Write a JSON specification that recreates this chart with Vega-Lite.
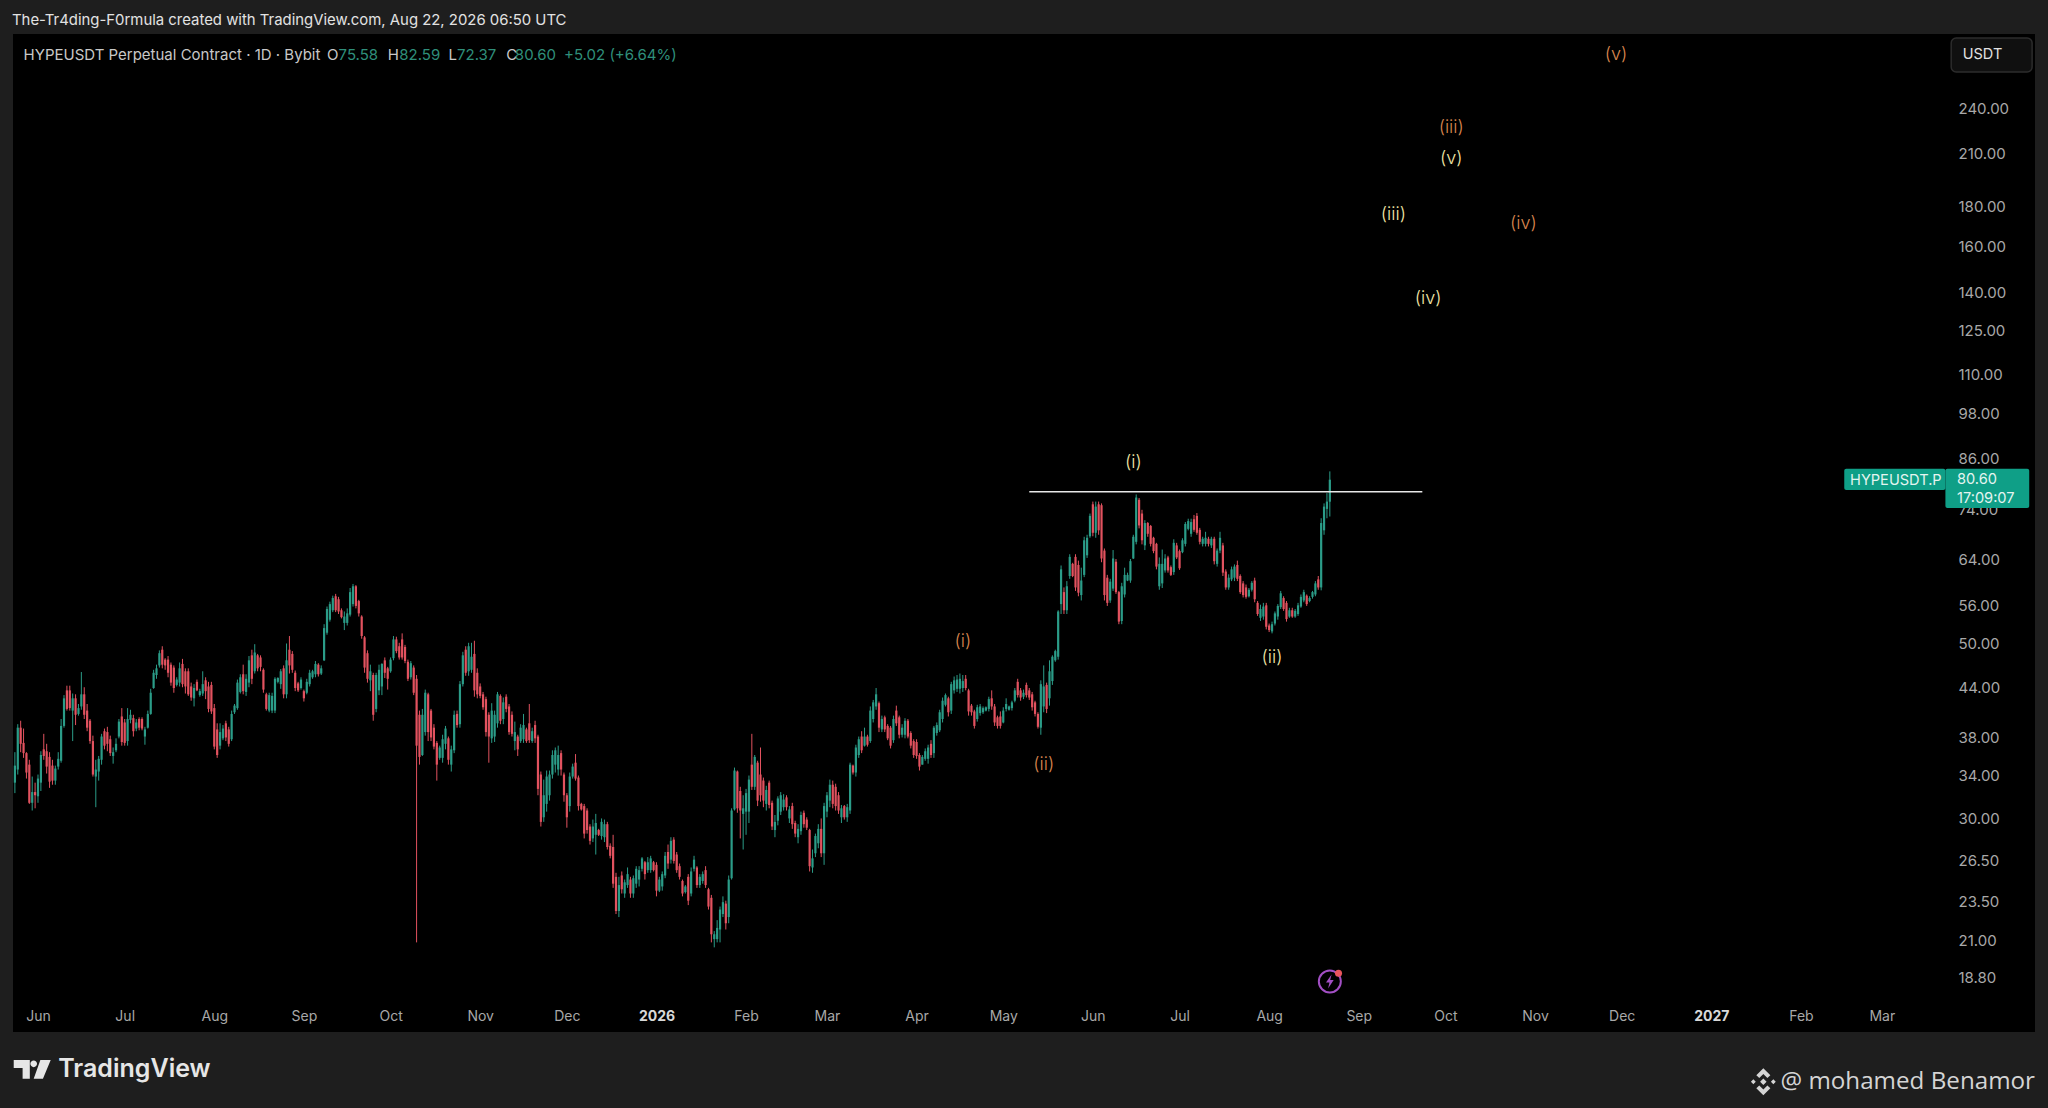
{"$schema":"https://vega.github.io/schema/vega-lite/v6.json","autosize":{"type":"none"},"width":2022,"height":998,"padding":{"left":13,"top":34,"right":13,"bottom":76},"background":"#1e1e1e","view":{"fill":"#000000","stroke":null},"config":{"text":{"font":"Inter"},"axis":{"labelFont":"Inter"}},
"datasets":{"candles":[
{"d":"2025-05-24","o":33.2,"h":36.3,"l":32.2,"c":34.9},{"d":"2025-05-25","o":34.5,"h":39.4,"l":34.0,"c":39.0},{"d":"2025-05-26","o":39.0,"h":39.8,"l":36.3,"c":37.2},{"d":"2025-05-27","o":37.3,"h":38.9,"l":35.7,"c":36.2},{"d":"2025-05-28","o":36.2,"h":36.3,"l":33.6,"c":34.2},{"d":"2025-05-29","o":35.0,"h":35.5,"l":31.2,"c":31.3},{"d":"2025-05-30","o":31.3,"h":33.8,"l":30.6,"c":32.3},{"d":"2025-05-31","o":32.3,"h":33.2,"l":30.8,"c":32.0},
{"d":"2025-06-01","o":31.9,"h":34.0,"l":31.3,"c":33.6},{"d":"2025-06-02","o":33.2,"h":36.4,"l":32.4,"c":36.0},{"d":"2025-06-03","o":36.6,"h":38.3,"l":35.5,"c":35.9},{"d":"2025-06-04","o":36.4,"h":37.2,"l":34.1,"c":34.8},{"d":"2025-06-05","o":35.8,"h":36.3,"l":32.7,"c":33.3},{"d":"2025-06-06","o":34.9,"h":35.5,"l":33.0,"c":33.4},{"d":"2025-06-07","o":33.4,"h":34.9,"l":33.0,"c":34.6},{"d":"2025-06-08","o":34.8,"h":36.3,"l":34.5,"c":35.6},{"d":"2025-06-09","o":35.4,"h":40.0,"l":35.2,"c":39.2},{"d":"2025-06-10","o":39.2,"h":42.9,"l":39.0,"c":42.5},{"d":"2025-06-11","o":43.5,"h":44.1,"l":41.0,"c":41.2},{"d":"2025-06-12","o":43.5,"h":44.1,"l":41.0,"c":41.3},{"d":"2025-06-13","o":41.0,"h":43.1,"l":37.5,"c":42.5},{"d":"2025-06-14","o":42.5,"h":43.0,"l":39.3,"c":40.5},{"d":"2025-06-15","o":40.6,"h":41.8,"l":40.4,"c":41.3},{"d":"2025-06-16","o":41.5,"h":45.9,"l":41.1,"c":43.0},{"d":"2025-06-17","o":43.0,"h":43.9,"l":40.0,"c":40.5},{"d":"2025-06-18","o":41.0,"h":41.8,"l":38.6,"c":39.0},{"d":"2025-06-19","o":39.8,"h":40.0,"l":37.2,"c":37.5},{"d":"2025-06-20","o":37.5,"h":38.1,"l":33.8,"c":34.0},{"d":"2025-06-21","o":33.8,"h":35.5,"l":30.9,"c":34.5},{"d":"2025-06-22","o":34.3,"h":35.9,"l":33.4,"c":35.6},{"d":"2025-06-23","o":35.5,"h":38.3,"l":35.0,"c":38.0},{"d":"2025-06-24","o":38.6,"h":38.9,"l":36.6,"c":37.0},{"d":"2025-06-25","o":38.5,"h":39.1,"l":36.4,"c":37.2},{"d":"2025-06-26","o":37.7,"h":38.1,"l":35.9,"c":36.2},{"d":"2025-06-27","o":35.9,"h":36.8,"l":35.1,"c":36.3},{"d":"2025-06-28","o":36.5,"h":37.8,"l":36.3,"c":37.2},{"d":"2025-06-29","o":38.0,"h":40.0,"l":37.8,"c":39.7},{"d":"2025-06-30","o":40.3,"h":41.3,"l":37.0,"c":37.4},
{"d":"2025-07-01","o":39.6,"h":40.0,"l":37.0,"c":37.3},{"d":"2025-07-02","o":37.5,"h":41.3,"l":37.0,"c":40.0},{"d":"2025-07-03","o":39.9,"h":41.1,"l":39.5,"c":40.5},{"d":"2025-07-04","o":40.1,"h":40.5,"l":38.0,"c":38.6},{"d":"2025-07-05","o":38.9,"h":40.0,"l":38.6,"c":39.6},{"d":"2025-07-06","o":40.0,"h":40.2,"l":38.7,"c":39.0},{"d":"2025-07-07","o":40.0,"h":40.2,"l":38.7,"c":38.9},{"d":"2025-07-08","o":38.0,"h":39.1,"l":37.1,"c":38.8},{"d":"2025-07-09","o":39.0,"h":41.0,"l":38.9,"c":40.6},{"d":"2025-07-10","o":40.6,"h":43.7,"l":40.5,"c":43.2},{"d":"2025-07-11","o":43.8,"h":46.2,"l":43.7,"c":45.8},{"d":"2025-07-12","o":45.5,"h":46.9,"l":45.0,"c":46.4},{"d":"2025-07-13","o":46.8,"h":48.9,"l":46.5,"c":48.5},{"d":"2025-07-14","o":49.0,"h":49.5,"l":46.4,"c":46.9},{"d":"2025-07-15","o":47.6,"h":47.8,"l":46.2,"c":46.8},{"d":"2025-07-16","o":47.6,"h":48.1,"l":45.2,"c":45.8},{"d":"2025-07-17","o":46.9,"h":47.2,"l":44.1,"c":44.5},{"d":"2025-07-18","o":46.5,"h":46.8,"l":43.2,"c":43.8},{"d":"2025-07-19","o":44.2,"h":45.2,"l":44.0,"c":44.9},{"d":"2025-07-20","o":44.5,"h":47.2,"l":44.0,"c":46.4},{"d":"2025-07-21","o":47.0,"h":47.7,"l":43.9,"c":44.3},{"d":"2025-07-22","o":46.0,"h":46.4,"l":43.1,"c":44.0},{"d":"2025-07-23","o":46.0,"h":46.4,"l":42.8,"c":43.0},{"d":"2025-07-24","o":44.0,"h":44.5,"l":42.2,"c":42.6},{"d":"2025-07-25","o":42.5,"h":44.3,"l":41.5,"c":43.8},{"d":"2025-07-26","o":44.6,"h":44.9,"l":43.4,"c":43.5},{"d":"2025-07-27","o":42.9,"h":43.7,"l":42.7,"c":43.4},{"d":"2025-07-28","o":43.1,"h":46.0,"l":42.8,"c":44.3},{"d":"2025-07-29","o":44.8,"h":45.2,"l":42.4,"c":43.4},{"d":"2025-07-30","o":44.0,"h":44.6,"l":40.8,"c":41.2},{"d":"2025-07-31","o":44.2,"h":44.6,"l":40.6,"c":40.9},
{"d":"2025-08-01","o":41.3,"h":41.8,"l":36.6,"c":36.9},{"d":"2025-08-02","o":38.8,"h":39.5,"l":35.7,"c":36.0},{"d":"2025-08-03","o":37.0,"h":39.5,"l":36.6,"c":38.5},{"d":"2025-08-04","o":37.8,"h":39.3,"l":37.6,"c":38.9},{"d":"2025-08-05","o":39.5,"h":39.8,"l":37.5,"c":37.9},{"d":"2025-08-06","o":38.8,"h":39.1,"l":36.9,"c":37.2},{"d":"2025-08-07","o":37.7,"h":41.0,"l":37.5,"c":40.6},{"d":"2025-08-08","o":40.8,"h":41.8,"l":40.6,"c":41.6},{"d":"2025-08-09","o":41.3,"h":44.9,"l":41.1,"c":44.5},{"d":"2025-08-10","o":43.3,"h":45.6,"l":43.1,"c":45.2},{"d":"2025-08-11","o":45.6,"h":46.9,"l":43.0,"c":43.4},{"d":"2025-08-12","o":43.3,"h":45.6,"l":42.8,"c":45.0},{"d":"2025-08-13","o":44.5,"h":48.1,"l":43.9,"c":47.5},{"d":"2025-08-14","o":48.2,"h":49.0,"l":44.3,"c":45.0},{"d":"2025-08-15","o":46.0,"h":49.8,"l":45.7,"c":48.6},{"d":"2025-08-16","o":48.2,"h":48.4,"l":46.0,"c":46.4},{"d":"2025-08-17","o":47.9,"h":48.2,"l":46.0,"c":46.6},{"d":"2025-08-18","o":46.2,"h":46.4,"l":43.2,"c":43.6},{"d":"2025-08-19","o":43.0,"h":43.2,"l":41.0,"c":41.2},{"d":"2025-08-20","o":41.0,"h":43.2,"l":40.8,"c":42.9},{"d":"2025-08-21","o":41.0,"h":43.2,"l":40.7,"c":42.8},{"d":"2025-08-22","o":41.0,"h":45.2,"l":40.7,"c":45.0},{"d":"2025-08-23","o":44.6,"h":45.2,"l":44.4,"c":45.1},{"d":"2025-08-24","o":44.3,"h":46.3,"l":43.7,"c":46.0},{"d":"2025-08-25","o":46.4,"h":46.8,"l":42.5,"c":43.0},{"d":"2025-08-26","o":43.0,"h":49.9,"l":42.5,"c":47.5},{"d":"2025-08-27","o":49.0,"h":51.0,"l":45.7,"c":46.8},{"d":"2025-08-28","o":48.4,"h":48.8,"l":45.8,"c":46.2},{"d":"2025-08-29","o":45.8,"h":46.1,"l":43.4,"c":43.8},{"d":"2025-08-30","o":44.4,"h":44.6,"l":43.3,"c":43.5},{"d":"2025-08-31","o":43.8,"h":45.2,"l":43.6,"c":44.9},
{"d":"2025-09-01","o":43.4,"h":43.6,"l":42.1,"c":42.5},{"d":"2025-09-02","o":43.2,"h":45.0,"l":43.0,"c":44.6},{"d":"2025-09-03","o":44.3,"h":46.2,"l":44.0,"c":45.8},{"d":"2025-09-04","o":45.2,"h":46.2,"l":45.0,"c":46.0},{"d":"2025-09-05","o":45.6,"h":47.4,"l":45.2,"c":47.0},{"d":"2025-09-06","o":46.9,"h":47.1,"l":45.3,"c":45.6},{"d":"2025-09-07","o":45.7,"h":46.8,"l":45.5,"c":46.4},{"d":"2025-09-08","o":47.5,"h":52.8,"l":47.4,"c":52.2},{"d":"2025-09-09","o":51.5,"h":55.6,"l":51.2,"c":55.2},{"d":"2025-09-10","o":53.5,"h":56.4,"l":53.2,"c":56.0},{"d":"2025-09-11","o":55.0,"h":57.4,"l":54.7,"c":57.0},{"d":"2025-09-12","o":57.3,"h":57.7,"l":54.7,"c":55.0},{"d":"2025-09-13","o":56.8,"h":57.2,"l":54.4,"c":54.8},
{"d":"2025-09-14","o":55.0,"h":55.3,"l":53.7,"c":53.9},{"d":"2025-09-15","o":53.0,"h":54.8,"l":51.9,"c":54.0},{"d":"2025-09-16","o":53.0,"h":55.3,"l":52.6,"c":54.5},{"d":"2025-09-17","o":54.3,"h":58.7,"l":54.0,"c":58.0},{"d":"2025-09-18","o":56.0,"h":59.4,"l":55.6,"c":59.0},{"d":"2025-09-19","o":59.0,"h":59.2,"l":55.3,"c":55.7},{"d":"2025-09-20","o":56.5,"h":56.7,"l":54.0,"c":54.5},{"d":"2025-09-21","o":54.0,"h":54.2,"l":50.6,"c":51.0},{"d":"2025-09-22","o":50.8,"h":51.0,"l":45.8,"c":46.5},{"d":"2025-09-23","o":48.5,"h":48.9,"l":44.5,"c":45.0},{"d":"2025-09-24","o":44.8,"h":46.9,"l":43.4,"c":46.0},{"d":"2025-09-25","o":45.5,"h":45.8,"l":39.8,"c":40.5},{"d":"2025-09-26","o":41.2,"h":45.8,"l":40.8,"c":45.5},{"d":"2025-09-27","o":43.5,"h":46.9,"l":42.9,"c":46.2},{"d":"2025-09-28","o":44.0,"h":47.1,"l":42.9,"c":47.0},{"d":"2025-09-29","o":47.5,"h":47.9,"l":45.1,"c":45.8},{"d":"2025-09-30","o":46.4,"h":46.6,"l":43.6,"c":45.0},
{"d":"2025-10-01","o":46.0,"h":47.9,"l":45.8,"c":47.6},{"d":"2025-10-02","o":47.8,"h":51.0,"l":47.5,"c":50.5},{"d":"2025-10-03","o":50.5,"h":50.9,"l":48.5,"c":48.8},{"d":"2025-10-04","o":49.5,"h":50.0,"l":47.6,"c":47.9},{"d":"2025-10-05","o":50.5,"h":51.4,"l":47.6,"c":47.9},{"d":"2025-10-06","o":49.4,"h":49.7,"l":47.1,"c":47.4},{"d":"2025-10-07","o":47.3,"h":47.6,"l":44.7,"c":45.0},{"d":"2025-10-08","o":45.2,"h":47.4,"l":44.9,"c":47.1},{"d":"2025-10-09","o":46.5,"h":46.8,"l":42.9,"c":43.2},{"d":"2025-10-10","o":45.0,"h":45.5,"l":20.8,"c":37.0},{"d":"2025-10-11","o":40.5,"h":41.0,"l":35.0,"c":35.8},{"d":"2025-10-12","o":36.0,"h":41.2,"l":35.9,"c":40.5},{"d":"2025-10-13","o":38.5,"h":43.6,"l":38.1,"c":43.2},{"d":"2025-10-14","o":43.0,"h":43.2,"l":37.5,"c":38.5},{"d":"2025-10-15","o":41.0,"h":41.2,"l":37.5,"c":37.9},{"d":"2025-10-16","o":39.0,"h":39.4,"l":36.6,"c":36.9},{"d":"2025-10-17","o":37.3,"h":37.5,"l":33.4,"c":35.0},{"d":"2025-10-18","o":35.7,"h":37.0,"l":35.5,"c":36.8},{"d":"2025-10-19","o":35.7,"h":38.2,"l":35.2,"c":37.7},{"d":"2025-10-20","o":37.2,"h":39.2,"l":36.6,"c":38.9},{"d":"2025-10-21","o":37.8,"h":38.0,"l":35.0,"c":35.5},{"d":"2025-10-22","o":35.0,"h":37.0,"l":34.3,"c":36.6},{"d":"2025-10-23","o":36.5,"h":41.0,"l":36.2,"c":40.5},{"d":"2025-10-24","o":40.6,"h":41.0,"l":39.0,"c":39.3},{"d":"2025-10-25","o":39.4,"h":44.7,"l":39.0,"c":44.3},{"d":"2025-10-26","o":44.3,"h":48.7,"l":44.0,"c":48.2},{"d":"2025-10-27","o":49.0,"h":49.5,"l":45.4,"c":45.8},{"d":"2025-10-28","o":46.0,"h":50.0,"l":45.4,"c":49.5},{"d":"2025-10-29","o":46.2,"h":50.0,"l":45.8,"c":48.0},{"d":"2025-10-30","o":48.4,"h":50.3,"l":42.7,"c":43.5},{"d":"2025-10-31","o":45.8,"h":46.4,"l":42.5,"c":43.0},
{"d":"2025-11-01","o":44.0,"h":44.4,"l":42.5,"c":42.8},{"d":"2025-11-02","o":43.0,"h":43.3,"l":41.1,"c":41.4},{"d":"2025-11-03","o":42.4,"h":42.7,"l":38.0,"c":38.5},{"d":"2025-11-04","o":40.5,"h":40.8,"l":35.2,"c":38.0},{"d":"2025-11-05","o":37.8,"h":41.9,"l":37.3,"c":41.0},{"d":"2025-11-06","o":38.0,"h":41.0,"l":37.4,"c":40.5},{"d":"2025-11-07","o":39.5,"h":43.3,"l":39.0,"c":43.0},{"d":"2025-11-08","o":42.8,"h":43.0,"l":39.4,"c":39.8},{"d":"2025-11-09","o":40.0,"h":42.6,"l":39.4,"c":42.0},{"d":"2025-11-10","o":42.7,"h":43.0,"l":40.8,"c":41.2},{"d":"2025-11-11","o":41.5,"h":41.8,"l":38.2,"c":38.5},{"d":"2025-11-12","o":40.5,"h":40.9,"l":38.0,"c":38.3},{"d":"2025-11-13","o":37.5,"h":39.7,"l":36.5,"c":38.5},{"d":"2025-11-14","o":38.0,"h":38.2,"l":35.9,"c":36.6},{"d":"2025-11-15","o":37.5,"h":39.4,"l":37.3,"c":39.0},{"d":"2025-11-16","o":37.7,"h":40.6,"l":37.3,"c":39.3},{"d":"2025-11-17","o":38.8,"h":39.0,"l":37.3,"c":37.5},{"d":"2025-11-18","o":39.5,"h":41.8,"l":37.3,"c":37.6},{"d":"2025-11-19","o":37.5,"h":39.0,"l":37.3,"c":38.6},{"d":"2025-11-20","o":39.3,"h":39.8,"l":37.3,"c":37.8},{"d":"2025-11-21","o":38.0,"h":38.2,"l":32.0,"c":32.6},{"d":"2025-11-22","o":34.0,"h":34.3,"l":29.2,"c":29.6},{"d":"2025-11-23","o":30.0,"h":33.5,"l":29.6,"c":32.0},{"d":"2025-11-24","o":31.2,"h":34.4,"l":30.5,"c":33.8},{"d":"2025-11-25","o":32.0,"h":34.4,"l":31.5,"c":34.0},{"d":"2025-11-26","o":34.0,"h":36.5,"l":33.6,"c":36.0},{"d":"2025-11-27","o":35.0,"h":36.8,"l":34.2,"c":36.5},{"d":"2025-11-28","o":34.5,"h":37.0,"l":33.9,"c":36.0},{"d":"2025-11-29","o":36.2,"h":36.5,"l":33.9,"c":34.5},{"d":"2025-11-30","o":34.0,"h":34.2,"l":31.4,"c":32.0},
{"d":"2025-12-01","o":32.0,"h":32.2,"l":29.1,"c":30.0},{"d":"2025-12-02","o":31.0,"h":34.2,"l":30.5,"c":33.8},{"d":"2025-12-03","o":33.8,"h":35.1,"l":33.6,"c":34.8},{"d":"2025-12-04","o":35.2,"h":36.1,"l":33.4,"c":33.6},{"d":"2025-12-05","o":33.7,"h":33.9,"l":30.6,"c":31.0},{"d":"2025-12-06","o":31.2,"h":31.3,"l":30.6,"c":30.7},{"d":"2025-12-07","o":31.0,"h":31.2,"l":28.2,"c":28.6},{"d":"2025-12-08","o":30.6,"h":30.8,"l":28.6,"c":28.9},{"d":"2025-12-09","o":29.2,"h":29.4,"l":27.7,"c":28.0},{"d":"2025-12-10","o":28.2,"h":29.8,"l":27.9,"c":29.2},{"d":"2025-12-11","o":28.5,"h":30.3,"l":26.9,"c":29.5},{"d":"2025-12-12","o":28.9,"h":29.0,"l":28.4,"c":28.5},{"d":"2025-12-13","o":28.4,"h":29.9,"l":28.1,"c":29.6},{"d":"2025-12-14","o":28.3,"h":29.8,"l":27.9,"c":29.4},{"d":"2025-12-15","o":29.4,"h":29.6,"l":27.3,"c":27.5},{"d":"2025-12-16","o":27.6,"h":27.8,"l":26.6,"c":26.8},{"d":"2025-12-17","o":27.5,"h":28.5,"l":24.4,"c":24.7},{"d":"2025-12-18","o":25.2,"h":25.5,"l":22.6,"c":22.8},{"d":"2025-12-19","o":22.8,"h":25.2,"l":22.4,"c":24.6},{"d":"2025-12-20","o":25.3,"h":25.6,"l":24.0,"c":24.3},{"d":"2025-12-21","o":24.0,"h":25.0,"l":23.7,"c":24.8},{"d":"2025-12-22","o":24.6,"h":25.9,"l":24.4,"c":25.4},{"d":"2025-12-23","o":25.0,"h":25.2,"l":23.7,"c":24.0},{"d":"2025-12-24","o":24.0,"h":25.3,"l":23.7,"c":25.1},{"d":"2025-12-25","o":24.7,"h":26.0,"l":24.4,"c":25.8},{"d":"2025-12-26","o":25.0,"h":26.0,"l":24.5,"c":25.7},{"d":"2025-12-27","o":25.8,"h":26.7,"l":25.6,"c":26.6},{"d":"2025-12-28","o":26.3,"h":26.4,"l":25.0,"c":25.4},{"d":"2025-12-29","o":25.7,"h":26.7,"l":25.5,"c":26.3},{"d":"2025-12-30","o":25.7,"h":26.8,"l":25.5,"c":26.6},{"d":"2025-12-31","o":26.3,"h":26.4,"l":25.6,"c":25.7},
{"d":"2026-01-01","o":26.1,"h":26.3,"l":23.8,"c":24.2},{"d":"2026-01-02","o":24.2,"h":25.2,"l":24.1,"c":25.0},{"d":"2026-01-03","o":24.5,"h":25.6,"l":24.2,"c":25.4},{"d":"2026-01-04","o":25.3,"h":27.1,"l":25.1,"c":26.8},{"d":"2026-01-05","o":27.1,"h":27.7,"l":25.8,"c":26.2},
{"d":"2026-01-06","o":26.5,"h":28.3,"l":26.2,"c":28.0},{"d":"2026-01-07","o":28.1,"h":28.3,"l":26.2,"c":26.4},{"d":"2026-01-08","o":26.9,"h":27.1,"l":25.5,"c":25.7},{"d":"2026-01-09","o":26.0,"h":26.2,"l":25.0,"c":25.2},{"d":"2026-01-10","o":24.9,"h":25.0,"l":23.8,"c":24.0},{"d":"2026-01-11","o":24.1,"h":24.6,"l":24.0,"c":24.5},{"d":"2026-01-12","o":25.2,"h":25.4,"l":23.2,"c":23.5},{"d":"2026-01-13","o":24.0,"h":25.9,"l":23.8,"c":25.6},{"d":"2026-01-14","o":25.8,"h":26.8,"l":25.6,"c":26.5},{"d":"2026-01-15","o":25.9,"h":26.0,"l":24.4,"c":24.6},{"d":"2026-01-16","o":24.6,"h":25.4,"l":24.4,"c":25.2},{"d":"2026-01-17","o":24.9,"h":25.6,"l":24.7,"c":25.4},{"d":"2026-01-18","o":25.7,"h":26.0,"l":24.4,"c":24.6},{"d":"2026-01-19","o":24.3,"h":24.4,"l":22.9,"c":23.1},{"d":"2026-01-20","o":23.7,"h":23.9,"l":20.8,"c":21.3},{"d":"2026-01-21","o":21.0,"h":21.5,"l":20.5,"c":21.3},{"d":"2026-01-22","o":21.0,"h":22.2,"l":20.8,"c":21.7},{"d":"2026-01-23","o":21.6,"h":23.1,"l":20.8,"c":22.9},{"d":"2026-01-24","o":22.6,"h":23.8,"l":22.4,"c":23.4},{"d":"2026-01-25","o":23.3,"h":23.5,"l":21.6,"c":22.0},{"d":"2026-01-26","o":22.4,"h":25.3,"l":22.0,"c":25.0},{"d":"2026-01-27","o":25.1,"h":30.8,"l":25.0,"c":30.6},{"d":"2026-01-28","o":30.7,"h":34.7,"l":30.6,"c":34.4},{"d":"2026-01-29","o":34.3,"h":34.4,"l":30.4,"c":30.8},{"d":"2026-01-30","o":32.4,"h":32.8,"l":28.2,"c":30.6},{"d":"2026-01-31","o":30.3,"h":32.0,"l":27.3,"c":30.8},
{"d":"2026-02-01","o":30.5,"h":32.6,"l":28.5,"c":32.2},{"d":"2026-02-02","o":30.5,"h":33.9,"l":29.5,"c":33.5},{"d":"2026-02-03","o":35.0,"h":38.3,"l":32.5,"c":32.8},{"d":"2026-02-04","o":32.8,"h":36.0,"l":32.5,"c":35.8},{"d":"2026-02-05","o":35.2,"h":35.4,"l":31.0,"c":31.5},{"d":"2026-02-06","o":34.0,"h":36.8,"l":31.4,"c":32.0},{"d":"2026-02-07","o":33.4,"h":33.7,"l":30.9,"c":31.5},{"d":"2026-02-08","o":31.2,"h":32.9,"l":30.6,"c":32.5},{"d":"2026-02-09","o":33.2,"h":33.4,"l":30.8,"c":31.1},{"d":"2026-02-10","o":31.3,"h":31.5,"l":28.9,"c":29.2},{"d":"2026-02-11","o":28.9,"h":30.2,"l":28.3,"c":29.6},{"d":"2026-02-12","o":29.7,"h":31.9,"l":29.3,"c":31.7},{"d":"2026-02-13","o":30.5,"h":32.3,"l":30.2,"c":32.0},{"d":"2026-02-14","o":30.9,"h":32.1,"l":30.6,"c":31.6},{"d":"2026-02-15","o":31.8,"h":32.0,"l":30.6,"c":30.9},{"d":"2026-02-16","o":29.9,"h":31.0,"l":29.5,"c":30.7},{"d":"2026-02-17","o":31.0,"h":31.3,"l":29.0,"c":29.4},{"d":"2026-02-18","o":29.5,"h":29.7,"l":28.3,"c":28.6},{"d":"2026-02-19","o":28.3,"h":29.4,"l":27.8,"c":29.0},{"d":"2026-02-20","o":28.8,"h":30.5,"l":28.5,"c":30.2},{"d":"2026-02-21","o":30.4,"h":30.6,"l":29.1,"c":29.4},{"d":"2026-02-22","o":29.8,"h":30.0,"l":28.9,"c":29.1},{"d":"2026-02-23","o":28.9,"h":29.0,"l":25.6,"c":26.0},{"d":"2026-02-24","o":25.9,"h":27.3,"l":25.5,"c":26.6},{"d":"2026-02-25","o":27.0,"h":28.6,"l":26.7,"c":28.4},{"d":"2026-02-26","o":27.8,"h":29.4,"l":27.4,"c":29.0},{"d":"2026-02-27","o":29.0,"h":29.9,"l":26.7,"c":27.0},{"d":"2026-02-28","o":27.0,"h":31.3,"l":26.1,"c":31.0},
{"d":"2026-03-01","o":30.5,"h":32.3,"l":30.0,"c":32.0},{"d":"2026-03-02","o":31.5,"h":33.5,"l":30.9,"c":33.0},{"d":"2026-03-03","o":33.0,"h":33.4,"l":30.8,"c":31.2},{"d":"2026-03-04","o":32.8,"h":33.1,"l":30.6,"c":31.0},{"d":"2026-03-05","o":32.0,"h":32.3,"l":30.3,"c":30.6},{"d":"2026-03-06","o":30.0,"h":31.1,"l":29.5,"c":30.8},{"d":"2026-03-07","o":31.0,"h":31.1,"l":29.8,"c":30.0},{"d":"2026-03-08","o":30.0,"h":31.2,"l":29.6,"c":30.9},{"d":"2026-03-09","o":30.6,"h":35.2,"l":30.3,"c":35.0},{"d":"2026-03-10","o":34.9,"h":35.0,"l":34.0,"c":34.2},{"d":"2026-03-11","o":34.2,"h":37.1,"l":33.8,"c":36.8},{"d":"2026-03-12","o":36.0,"h":38.0,"l":35.7,"c":37.7},{"d":"2026-03-13","o":38.0,"h":38.6,"l":36.2,"c":36.5},{"d":"2026-03-14","o":37.0,"h":39.0,"l":36.9,"c":38.0},{"d":"2026-03-15","o":38.0,"h":38.2,"l":36.9,"c":37.1},{"d":"2026-03-16","o":37.5,"h":41.5,"l":37.3,"c":41.0},{"d":"2026-03-17","o":40.0,"h":42.3,"l":39.6,"c":42.0},{"d":"2026-03-18","o":41.5,"h":43.8,"l":41.1,"c":43.0},{"d":"2026-03-19","o":41.9,"h":42.1,"l":38.5,"c":39.0},{"d":"2026-03-20","o":38.8,"h":40.4,"l":38.5,"c":40.0},{"d":"2026-03-21","o":40.2,"h":40.4,"l":38.5,"c":38.8},{"d":"2026-03-22","o":39.2,"h":39.4,"l":37.6,"c":37.8},{"d":"2026-03-23","o":39.0,"h":39.2,"l":36.7,"c":37.0},{"d":"2026-03-24","o":37.6,"h":40.4,"l":37.3,"c":40.0},{"d":"2026-03-25","o":41.0,"h":41.6,"l":39.2,"c":39.5},{"d":"2026-03-26","o":40.2,"h":40.4,"l":37.8,"c":38.2},{"d":"2026-03-27","o":38.2,"h":39.4,"l":37.9,"c":39.0},{"d":"2026-03-28","o":38.2,"h":40.1,"l":37.8,"c":39.8},{"d":"2026-03-29","o":39.8,"h":40.0,"l":37.8,"c":38.0},{"d":"2026-03-30","o":38.4,"h":38.6,"l":36.7,"c":37.0},{"d":"2026-03-31","o":37.5,"h":37.7,"l":35.7,"c":36.0},
{"d":"2026-04-01","o":37.4,"h":37.7,"l":35.6,"c":35.9},{"d":"2026-04-02","o":36.0,"h":36.2,"l":34.4,"c":34.8},{"d":"2026-04-03","o":35.0,"h":36.0,"l":35.0,"c":35.8},{"d":"2026-04-04","o":35.6,"h":36.7,"l":35.4,"c":36.4},{"d":"2026-04-05","o":35.6,"h":37.1,"l":35.1,"c":36.8},{"d":"2026-04-06","o":37.2,"h":37.6,"l":35.7,"c":36.0},{"d":"2026-04-07","o":36.2,"h":39.2,"l":35.7,"c":39.0},{"d":"2026-04-08","o":38.4,"h":39.6,"l":38.1,"c":39.3},{"d":"2026-04-09","o":38.7,"h":41.1,"l":38.5,"c":40.8},{"d":"2026-04-10","o":40.0,"h":42.6,"l":39.6,"c":42.2},{"d":"2026-04-11","o":41.7,"h":43.1,"l":41.5,"c":42.9},{"d":"2026-04-12","o":42.5,"h":42.7,"l":40.3,"c":40.8},{"d":"2026-04-13","o":41.0,"h":44.6,"l":40.6,"c":44.3},{"d":"2026-04-14","o":43.5,"h":45.3,"l":43.1,"c":44.8},{"d":"2026-04-15","o":43.7,"h":45.5,"l":43.3,"c":44.9},{"d":"2026-04-16","o":43.7,"h":45.7,"l":43.1,"c":45.0},{"d":"2026-04-17","o":43.8,"h":45.5,"l":43.3,"c":44.7},{"d":"2026-04-18","o":45.0,"h":45.5,"l":43.5,"c":43.8},{"d":"2026-04-19","o":43.5,"h":43.7,"l":40.4,"c":40.9},{"d":"2026-04-20","o":41.6,"h":41.8,"l":40.4,"c":40.8},{"d":"2026-04-21","o":40.9,"h":41.1,"l":38.9,"c":39.2},{"d":"2026-04-22","o":40.0,"h":41.7,"l":39.7,"c":41.4},{"d":"2026-04-23","o":40.7,"h":41.8,"l":40.4,"c":41.5},{"d":"2026-04-24","o":40.8,"h":41.5,"l":40.6,"c":41.3},{"d":"2026-04-25","o":41.0,"h":41.5,"l":40.9,"c":41.4},{"d":"2026-04-26","o":41.2,"h":42.7,"l":40.9,"c":42.4},{"d":"2026-04-27","o":42.5,"h":43.5,"l":41.1,"c":41.5},{"d":"2026-04-28","o":41.5,"h":41.8,"l":39.2,"c":39.6},{"d":"2026-04-29","o":40.2,"h":40.4,"l":38.9,"c":39.2},
{"d":"2026-04-30","o":40.3,"h":40.9,"l":38.9,"c":39.2},{"d":"2026-05-01","o":39.6,"h":41.4,"l":39.5,"c":41.0},{"d":"2026-05-02","o":41.2,"h":42.5,"l":40.9,"c":41.8},{"d":"2026-05-03","o":41.1,"h":41.6,"l":41.0,"c":41.5},{"d":"2026-05-04","o":41.3,"h":42.2,"l":41.0,"c":42.0},{"d":"2026-05-05","o":42.2,"h":43.8,"l":42.0,"c":43.5},{"d":"2026-05-06","o":44.6,"h":45.0,"l":42.6,"c":42.9},{"d":"2026-05-07","o":43.5,"h":43.8,"l":42.2,"c":42.6},{"d":"2026-05-08","o":42.7,"h":43.6,"l":42.4,"c":43.2},{"d":"2026-05-09","o":44.2,"h":44.5,"l":42.6,"c":42.9},{"d":"2026-05-10","o":43.5,"h":43.8,"l":42.3,"c":42.6},{"d":"2026-05-11","o":43.0,"h":43.3,"l":41.0,"c":41.4},{"d":"2026-05-12","o":42.0,"h":42.2,"l":40.3,"c":40.6},{"d":"2026-05-13","o":40.6,"h":40.8,"l":38.9,"c":39.1},{"d":"2026-05-14","o":39.0,"h":44.8,"l":38.2,"c":44.3},{"d":"2026-05-15","o":41.5,"h":46.8,"l":40.8,"c":44.0},{"d":"2026-05-16","o":44.2,"h":44.5,"l":40.7,"c":41.2},{"d":"2026-05-17","o":42.5,"h":47.5,"l":41.6,"c":46.0},{"d":"2026-05-18","o":44.7,"h":48.2,"l":44.2,"c":48.0},{"d":"2026-05-19","o":47.5,"h":49.0,"l":47.3,"c":48.8},{"d":"2026-05-20","o":48.0,"h":55.0,"l":47.6,"c":54.8},{"d":"2026-05-21","o":56.0,"h":62.7,"l":54.4,"c":62.0},{"d":"2026-05-22","o":58.0,"h":58.8,"l":54.4,"c":55.0},{"d":"2026-05-23","o":55.0,"h":59.9,"l":54.4,"c":59.0},{"d":"2026-05-24","o":60.8,"h":64.8,"l":60.3,"c":64.3},{"d":"2026-05-25","o":63.0,"h":63.2,"l":60.6,"c":60.8},{"d":"2026-05-26","o":64.3,"h":64.8,"l":58.2,"c":58.8},{"d":"2026-05-27","o":62.8,"h":63.6,"l":57.3,"c":57.9},{"d":"2026-05-28","o":57.5,"h":62.3,"l":56.6,"c":60.0},{"d":"2026-05-29","o":61.0,"h":68.2,"l":60.6,"c":67.5},{"d":"2026-05-30","o":64.6,"h":68.6,"l":64.1,"c":68.0},{"d":"2026-05-31","o":68.3,"h":73.0,"l":68.0,"c":72.5},
{"d":"2026-06-01","o":75.0,"h":75.6,"l":68.3,"c":69.0},{"d":"2026-06-02","o":69.0,"h":75.6,"l":68.0,"c":74.5},{"d":"2026-06-03","o":75.0,"h":75.6,"l":68.6,"c":69.5},{"d":"2026-06-04","o":74.8,"h":75.2,"l":63.3,"c":64.0},{"d":"2026-06-05","o":65.5,"h":65.9,"l":56.6,"c":57.5},{"d":"2026-06-06","o":60.5,"h":61.0,"l":55.7,"c":56.2},{"d":"2026-06-07","o":56.6,"h":60.3,"l":56.2,"c":59.8},{"d":"2026-06-08","o":58.6,"h":65.6,"l":58.2,"c":64.0},{"d":"2026-06-09","o":63.4,"h":63.9,"l":57.7,"c":58.0},{"d":"2026-06-10","o":58.0,"h":58.2,"l":52.8,"c":53.2},{"d":"2026-06-11","o":53.3,"h":59.6,"l":52.8,"c":59.0},{"d":"2026-06-12","o":57.6,"h":62.3,"l":57.1,"c":61.0},{"d":"2026-06-13","o":60.0,"h":61.4,"l":59.9,"c":61.0},{"d":"2026-06-14","o":60.0,"h":63.9,"l":59.6,"c":63.5},{"d":"2026-06-15","o":64.0,"h":68.6,"l":63.9,"c":68.2},{"d":"2026-06-16","o":67.2,"h":77.2,"l":66.7,"c":76.5},{"d":"2026-06-17","o":76.0,"h":76.4,"l":69.9,"c":70.5},{"d":"2026-06-18","o":73.0,"h":73.8,"l":66.7,"c":67.5},{"d":"2026-06-19","o":66.5,"h":71.6,"l":65.6,"c":71.0},{"d":"2026-06-20","o":71.0,"h":71.2,"l":68.2,"c":68.8},{"d":"2026-06-21","o":70.4,"h":70.6,"l":66.3,"c":66.8},{"d":"2026-06-22","o":68.0,"h":68.2,"l":65.0,"c":65.4},{"d":"2026-06-23","o":66.8,"h":67.0,"l":62.0,"c":62.5},{"d":"2026-06-24","o":59.0,"h":64.2,"l":58.4,"c":63.0},{"d":"2026-06-25","o":59.5,"h":65.7,"l":58.7,"c":63.0},{"d":"2026-06-26","o":61.8,"h":64.8,"l":61.4,"c":64.0},{"d":"2026-06-27","o":64.2,"h":64.5,"l":61.4,"c":61.8},{"d":"2026-06-28","o":62.4,"h":62.7,"l":60.8,"c":61.0},{"d":"2026-06-29","o":61.5,"h":67.7,"l":61.0,"c":67.0},{"d":"2026-06-30","o":66.5,"h":67.0,"l":63.9,"c":64.2},
{"d":"2026-07-01","o":65.4,"h":65.7,"l":61.9,"c":62.2},{"d":"2026-07-02","o":65.2,"h":67.9,"l":65.0,"c":67.5},{"d":"2026-07-03","o":66.8,"h":71.2,"l":66.3,"c":70.8},{"d":"2026-07-04","o":69.8,"h":71.9,"l":69.5,"c":71.4},{"d":"2026-07-05","o":68.8,"h":71.9,"l":68.2,"c":71.2},{"d":"2026-07-06","o":71.8,"h":72.7,"l":69.2,"c":69.6},{"d":"2026-07-07","o":72.5,"h":73.1,"l":68.6,"c":69.0},{"d":"2026-07-08","o":69.6,"h":70.0,"l":66.7,"c":67.2},{"d":"2026-07-09","o":66.8,"h":68.2,"l":66.3,"c":67.8},{"d":"2026-07-10","o":66.8,"h":69.2,"l":66.3,"c":68.0},{"d":"2026-07-11","o":67.8,"h":68.2,"l":66.3,"c":66.8},{"d":"2026-07-12","o":66.5,"h":68.2,"l":66.0,"c":67.8},{"d":"2026-07-13","o":67.8,"h":68.2,"l":62.9,"c":63.5},{"d":"2026-07-14","o":63.0,"h":65.9,"l":62.5,"c":65.5},{"d":"2026-07-15","o":65.5,"h":69.2,"l":65.0,"c":68.0},{"d":"2026-07-16","o":66.5,"h":67.0,"l":60.8,"c":61.4},{"d":"2026-07-17","o":61.6,"h":62.0,"l":58.4,"c":58.8},{"d":"2026-07-18","o":58.8,"h":61.1,"l":58.4,"c":60.5},{"d":"2026-07-19","o":60.2,"h":62.5,"l":59.9,"c":62.0},{"d":"2026-07-20","o":60.5,"h":62.9,"l":59.9,"c":62.5},{"d":"2026-07-21","o":62.8,"h":63.6,"l":59.9,"c":60.3},{"d":"2026-07-22","o":60.8,"h":61.1,"l":57.7,"c":58.0},{"d":"2026-07-23","o":59.5,"h":59.9,"l":57.1,"c":57.5},{"d":"2026-07-24","o":58.8,"h":59.3,"l":56.9,"c":57.2},{"d":"2026-07-25","o":57.3,"h":58.7,"l":57.1,"c":58.4},{"d":"2026-07-26","o":58.4,"h":59.9,"l":58.1,"c":59.6},{"d":"2026-07-27","o":60.0,"h":60.5,"l":56.3,"c":56.8},{"d":"2026-07-28","o":56.2,"h":56.5,"l":54.1,"c":54.4},{"d":"2026-07-29","o":53.8,"h":55.9,"l":53.3,"c":55.2},{"d":"2026-07-30","o":54.0,"h":56.2,"l":53.5,"c":55.6},{"d":"2026-07-31","o":55.8,"h":56.2,"l":52.0,"c":52.4},
{"d":"2026-08-01","o":52.6,"h":52.9,"l":51.6,"c":51.9},{"d":"2026-08-02","o":51.7,"h":53.2,"l":51.4,"c":52.8},{"d":"2026-08-03","o":52.9,"h":54.8,"l":52.6,"c":54.5},{"d":"2026-08-04","o":54.0,"h":56.0,"l":53.5,"c":55.7},{"d":"2026-08-05","o":55.5,"h":58.2,"l":55.2,"c":57.8},{"d":"2026-08-06","o":57.0,"h":57.3,"l":54.9,"c":55.2},{"d":"2026-08-07","o":56.2,"h":56.5,"l":53.2,"c":53.6},{"d":"2026-08-08","o":54.0,"h":55.4,"l":53.8,"c":55.0},{"d":"2026-08-09","o":55.0,"h":55.4,"l":53.8,"c":54.0},{"d":"2026-08-10","o":54.0,"h":55.2,"l":53.8,"c":54.9},{"d":"2026-08-11","o":54.4,"h":56.2,"l":54.1,"c":55.8},{"d":"2026-08-12","o":55.6,"h":57.6,"l":55.4,"c":57.2},{"d":"2026-08-13","o":56.6,"h":58.4,"l":56.3,"c":58.0},{"d":"2026-08-14","o":57.4,"h":57.6,"l":55.7,"c":56.0},{"d":"2026-08-15","o":56.5,"h":57.3,"l":56.3,"c":57.0},{"d":"2026-08-16","o":57.2,"h":58.2,"l":56.9,"c":58.0},{"d":"2026-08-17","o":57.6,"h":59.9,"l":57.3,"c":59.5},{"d":"2026-08-18","o":60.2,"h":60.8,"l":58.4,"c":58.8},{"d":"2026-08-19","o":58.8,"h":72.0,"l":58.3,"c":71.0},{"d":"2026-08-20","o":69.5,"h":75.2,"l":68.6,"c":74.5},{"d":"2026-08-21","o":74.0,"h":77.5,"l":72.0,"c":75.6},{"d":"2026-08-22","o":75.58,"h":82.59,"l":72.37,"c":80.6}
]},
"layer":[
{"data":{"name":"candles"},"mark":{"type":"rule","strokeWidth":1},"encoding":{"x":{"field":"d","type":"temporal","title":null,"scale":{"type":"utc","domain":[1747988640000,1808438400000],"nice":false},"axis":{"orient":"bottom","domain":false,"ticks":false,"grid":false,"tickCount":{"interval":"month","step":1},"labelExpr":"time(datum.value)>=time(datetime(2027,2,15)) ? '' : (utcmonth(datum.value)==0 ? utcFormat(datum.value,'%Y') : utcFormat(datum.value,'%b'))","labelOverlap":false,"labelPadding":-16,"labelBaseline":"middle","labelAlign":"center","labelFontSize":14,"labelColor":{"condition":{"test":"utcmonth(datum.value)==0","value":"#d8d8d8"},"value":"#a8a8a8"},"labelFontWeight":{"condition":{"test":"utcmonth(datum.value)==0","value":"bold"},"value":"normal"}}},"y":{"field":"l","type":"quantitative","title":null,"scale":{"type":"log","domain":[16.0,297.2],"nice":false},"axis":{"orient":"right","domain":false,"ticks":false,"grid":false,"values":[18.8,21,23.5,26.5,30,34,38,44,50,56,64,74,86,98,110,125,140,160,180,210,240],"format":".2f","labelPadding":-77,"labelOffset":1,"labelAlign":"left","labelFontSize":15,"labelColor":"#a8a8a8"}},"y2":{"field":"h"},"color":{"condition":{"test":"datum.c>=datum.o","value":"#2b9c88"},"value":"#e2525f"}}},
{"data":{"name":"candles"},"mark":{"type":"rule","strokeWidth":2.2},"encoding":{"x":{"field":"d","type":"temporal"},"y":{"field":"o","type":"quantitative"},"y2":{"field":"c"},"color":{"condition":{"test":"datum.c>=datum.o","value":"#2b9c88"},"value":"#e2525f"}}},
{"data":{"values":[{"start":"2026-05-10","end":"2026-09-23","p":77.8}]},"mark":{"type":"rule","color":"#e8e8e8","strokeWidth":1.6},"encoding":{"x":{"field":"start","type":"temporal"},"x2":{"field":"end"},"y":{"field":"p","type":"quantitative"}}},
{"data":{"values":[{"d":"2026-11-29","p":280.7,"t":"(v)","kind":"primary"},{"d":"2026-10-03","p":226.5,"t":"(iii)","kind":"primary"},{"d":"2026-10-03","p":206.7,"t":"(v)","kind":"secondary"},{"d":"2026-09-13","p":175.5,"t":"(iii)","kind":"secondary"},{"d":"2026-10-28","p":170.8,"t":"(iv)","kind":"primary"},{"d":"2026-09-25","p":137.3,"t":"(iv)","kind":"secondary"},{"d":"2026-06-15","p":84.9,"t":"(i)","kind":"secondary"},{"d":"2026-04-17","p":50.3,"t":"(i)","kind":"primary"},{"d":"2026-05-15","p":35.1,"t":"(ii)","kind":"primary"},{"d":"2026-08-02","p":47.9,"t":"(ii)","kind":"secondary"}]},"mark":{"type":"text","fontSize":18,"align":"center","baseline":"middle","dy":1,"fontWeight":300},"encoding":{"x":{"field":"d","type":"temporal"},"y":{"field":"p","type":"quantitative"},"text":{"field":"t"},"color":{"field":"kind","type":"nominal","legend":null,"scale":{"domain":["primary","secondary","label","value"],"range":["#d9864f","#f2e6a6","#c8c8c8","#2f8f7b"]}}}},
{"data":{"values":[{"d":"2025-05-27","p":281.1,"t":"HYPEUSDT Perpetual Contract · 1D · Bybit","kind":"label"},{"d":"2025-09-09","p":281.1,"t":"O","kind":"label"},{"d":"2025-09-13","p":281.1,"t":"75.58","kind":"value"},{"d":"2025-09-30","p":281.1,"t":"H","kind":"label"},{"d":"2025-10-04","p":281.1,"t":"82.59","kind":"value"},{"d":"2025-10-21","p":281.1,"t":"L","kind":"label"},{"d":"2025-10-24","p":281.1,"t":"72.37","kind":"value"},{"d":"2025-11-10","p":281.1,"t":"C","kind":"label"},{"d":"2025-11-13","p":281.1,"t":"80.60","kind":"value"},{"d":"2025-11-30","p":281.1,"t":"+5.02 (+6.64%)","kind":"value"}]},"mark":{"type":"text","fontSize":15,"align":"left","baseline":"middle","dy":2},"encoding":{"x":{"field":"d","type":"temporal"},"y":{"field":"p","type":"quantitative"},"text":{"field":"t"},"color":{"field":"kind","type":"nominal","legend":null,"scale":{"domain":["primary","secondary","label","value"],"range":["#d9864f","#f2e6a6","#c8c8c8","#2f8f7b"]}}}},
{"data":{"values":[{"d":"2025-05-23","p":310.5,"t":"The-Tr4ding-F0rmula created with TradingView.com, Aug 22, 2026 06:50 UTC"}]},"mark":{"type":"text","fontSize":14.9,"align":"left","baseline":"middle","dy":2,"color":"#e2e2e2"},"encoding":{"x":{"field":"d","type":"temporal"},"y":{"field":"p","type":"quantitative"},"text":{"field":"t"}}},
{"data":{"values":[{"a":"2027-02-16","b":"2027-03-23","top":83.2,"bottom":78.2},{"a":"2027-03-23","b":"2027-04-21","top":83.2,"bottom":74.2}]},"mark":{"type":"rect","color":"#0f9f87","cornerRadius":2},"encoding":{"x":{"field":"a","type":"temporal"},"x2":{"field":"b"},"y":{"field":"top","type":"quantitative"},"y2":{"field":"bottom"}}},
{"data":{"values":[{"d":"2027-02-18","p":80.5,"t":"HYPEUSDT.P"},{"d":"2027-03-27","p":80.8,"t":"80.60"},{"d":"2027-03-27","p":76.3,"t":"17:09:07"}]},"mark":{"type":"text","fontSize":14.6,"align":"left","baseline":"middle","dy":1,"color":"#e4f4f0"},"encoding":{"x":{"field":"d","type":"temporal"},"y":{"field":"p","type":"quantitative"},"text":{"field":"t"}}},
{"data":{"values":[{"a":"2027-03-25","b":"2027-04-22","top":293.7,"bottom":265.9}]},"mark":{"type":"rect","fill":"#101010","stroke":"#2c2c2c","strokeWidth":1.5,"cornerRadius":5},"encoding":{"x":{"field":"a","type":"temporal"},"x2":{"field":"b"},"y":{"field":"top","type":"quantitative"},"y2":{"field":"bottom"}}},
{"data":{"values":[{"d":"2027-03-29","p":280.3,"t":"USDT"}]},"mark":{"type":"text","fontSize":14.5,"align":"left","baseline":"middle","dy":1,"color":"#e2e2e2"},"encoding":{"x":{"field":"d","type":"temporal"},"y":{"field":"p","type":"quantitative"},"text":{"field":"t"}}},
{"data":{"values":[{"d":"2026-08-22","p":18.55}]},"mark":{"type":"point","shape":"circle","filled":false,"stroke":"#a24fc4","strokeWidth":2,"size":484,"opacity":1},"encoding":{"x":{"field":"d","type":"temporal"},"y":{"field":"p","type":"quantitative"}}},
{"data":{"values":[{"d":"2026-08-22","p":18.55}]},"mark":{"type":"point","shape":"M0.25,-1L-0.55,0.15L-0.05,0.15L-0.25,1L0.55,-0.2L0.05,-0.2Z","filled":true,"color":"#a24fc4","size":196,"opacity":1},"encoding":{"x":{"field":"d","type":"temporal"},"y":{"field":"p","type":"quantitative"}}},
{"data":{"values":[{"d":"2026-08-25","p":19.0}]},"mark":{"type":"point","shape":"circle","filled":true,"color":"#e8545c","size":50,"opacity":1},"encoding":{"x":{"field":"d","type":"temporal"},"y":{"field":"p","type":"quantitative"}}},
{"data":{"values":[{"d":"2025-05-30","p":14.34}]},"mark":{"type":"point","shape":"M-1,-0.51L-0.13,-0.51L-0.13,0.51L-0.52,0.51L-0.52,-0.08L-1,-0.08ZM-0.10,-0.3A0.18,0.18 0 1 1 0.26,-0.3A0.18,0.18 0 1 1 -0.10,-0.3ZM0.44,-0.51L1,-0.51L0.58,0.51L0.08,0.51Z","filled":true,"color":"#e6e6e6","size":1369,"opacity":1},"encoding":{"x":{"field":"d","type":"temporal"},"y":{"field":"p","type":"quantitative"}}},
{"data":{"values":[{"d":"2025-06-08","p":14.34,"t":"TradingView"}]},"mark":{"type":"text","fontSize":25,"fontWeight":600,"align":"left","baseline":"middle","color":"#e6e6e6"},"encoding":{"x":{"field":"d","type":"temporal"},"y":{"field":"p","type":"quantitative"},"text":{"field":"t"}}},
{"data":{"values":[{"d":"2027-04-23","p":13.83,"t":"@ mohamed Benamor"}]},"mark":{"type":"text","font":"Open Sans","fontSize":24.2,"align":"right","baseline":"middle","color":"#d4d4d4"},"encoding":{"x":{"field":"d","type":"temporal"},"y":{"field":"p","type":"quantitative"},"text":{"field":"t"}}},
{"data":{"values":[{"d":"2027-01-19","p":13.83}]},"mark":{"type":"point","shape":"M0,-0.24L0.24,0L0,0.24L-0.24,0ZM-0.74,-0.18L-0.56,0L-0.74,0.18L-0.92,0ZM0.74,-0.18L0.92,0L0.74,0.18L0.56,0ZM0,-1L0.52,-0.48L0.3,-0.28L0,-0.58L-0.3,-0.28L-0.52,-0.48ZM0,1L-0.52,0.48L-0.3,0.28L0,0.58L0.3,0.28L0.52,0.48Z","filled":true,"color":"#d4d4d4","size":729,"opacity":1},"encoding":{"x":{"field":"d","type":"temporal"},"y":{"field":"p","type":"quantitative"}}}
]}
